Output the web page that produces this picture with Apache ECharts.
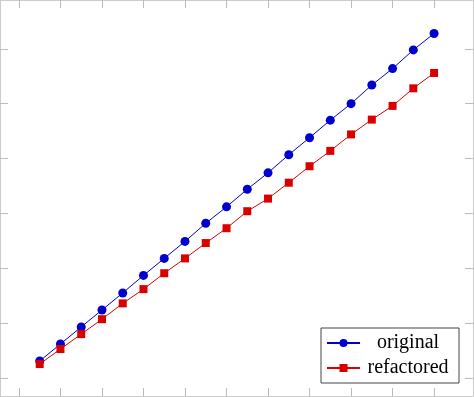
<!DOCTYPE html>
<html>
	<head>
		<meta charset="utf-8" />
		<title>original vs refactored</title>
		<script src="https://cdn.jsdelivr.net/npm/echarts@6/dist/echarts.min.js"></script>
		<style>
			html, body { margin: 0; padding: 0; background: #fff; }
			#main { width: 474px; height: 397px; }
		</style>
	</head>
	<body>
		<div id="main"></div>
		<script type="text/javascript">
			// data
			var xs = [1, 2, 3, 4, 5, 6, 7, 8, 9, 10, 11, 12, 13, 14, 15, 16, 17, 18, 19, 20];
			var original = [1.55, 3.1, 4.65, 6.2, 7.75, 9.35, 10.9, 12.45, 14.1, 15.6, 17.2, 18.7, 20.35, 21.9, 23.5, 25.0, 26.7, 28.2, 29.9, 31.4];
			var refactored = [1.27, 2.64, 4.0, 5.36, 6.8, 8.1, 9.55, 10.9, 12.3, 13.65, 15.2, 16.35, 17.8, 19.3, 20.7, 22.2, 23.55, 24.8, 26.4, 27.8];
			var xTicks = [0, 2, 4, 6, 8, 10, 12, 14, 16, 18, 20];
			var yTicks = [0, 5, 10, 15, 20, 25, 30];

			// frame is cropped on the left/top in the original picture
			var xMin = -0.913, xMax = 21.875;
			var yMin = -1.64, yMax = 34.45;

			function pairs(ys) {
				var out = [];
				for (var i = 0; i < xs.length; i++) {
					out.push([xs[i], ys[i]]);
				}
				return out;
			}

			var frame = { show: true, onZero: false, lineStyle: { color: '#cccccc', width: 1 } };

			function xAxis(pos) {
				return {
					type: 'value', position: pos, min: xMin, max: xMax,
					axisLine: frame,
					axisTick: { show: true, inside: true, length: 8, customValues: xTicks, lineStyle: { color: '#bbbbbb' } },
					axisLabel: { show: false },
					splitLine: { show: false }
				};
			}
			function yAxis(pos) {
				return {
					type: 'value', position: pos, min: yMin, max: yMax,
					axisLine: frame,
					axisTick: { show: true, inside: true, length: 8, customValues: yTicks, lineStyle: { color: '#bbbbbb' } },
					axisLabel: { show: false },
					splitLine: { show: false }
				};
			}

			var chart = echarts.init(document.getElementById('main'));
			chart.setOption({
				animation: false,
				grid: { left: -1, right: 1, top: -1, bottom: 1, containLabel: false },
				xAxis: [xAxis('bottom'), xAxis('top')],
				yAxis: [yAxis('left'), yAxis('right')],
				legend: {
					orient: 'vertical',
					right: 15,
					bottom: 14,
					padding: [5, 8, 5, 5],
					itemGap: 5,
					itemWidth: 33,
					itemHeight: 10,
					backgroundColor: '#fff',
					borderColor: '#444',
					borderWidth: 1,
					borderRadius: 0,
					data: ['original', 'refactored'],
					formatter: function (n) { return '{t|' + n + '}'; },
					textStyle: {
						rich: {
							t: { width: 86, align: 'center', fontFamily: 'Liberation Serif', fontSize: 20, lineHeight: 20, color: '#000' }
						}
					}
				},
				series: [{
					name: 'original',
					type: 'line',
					data: pairs(original),
					symbol: 'circle',
					symbolSize: 9,
					itemStyle: { color: '#0000cc' },
					lineStyle: { color: '#0000cc', width: 1 }
				}, {
					name: 'refactored',
					type: 'line',
					data: pairs(refactored),
					symbol: 'rect',
					symbolSize: 8,
					itemStyle: { color: '#d90000' },
					lineStyle: { color: '#d90000', width: 1 }
				}]
			});
		</script>
	</body>
</html>
